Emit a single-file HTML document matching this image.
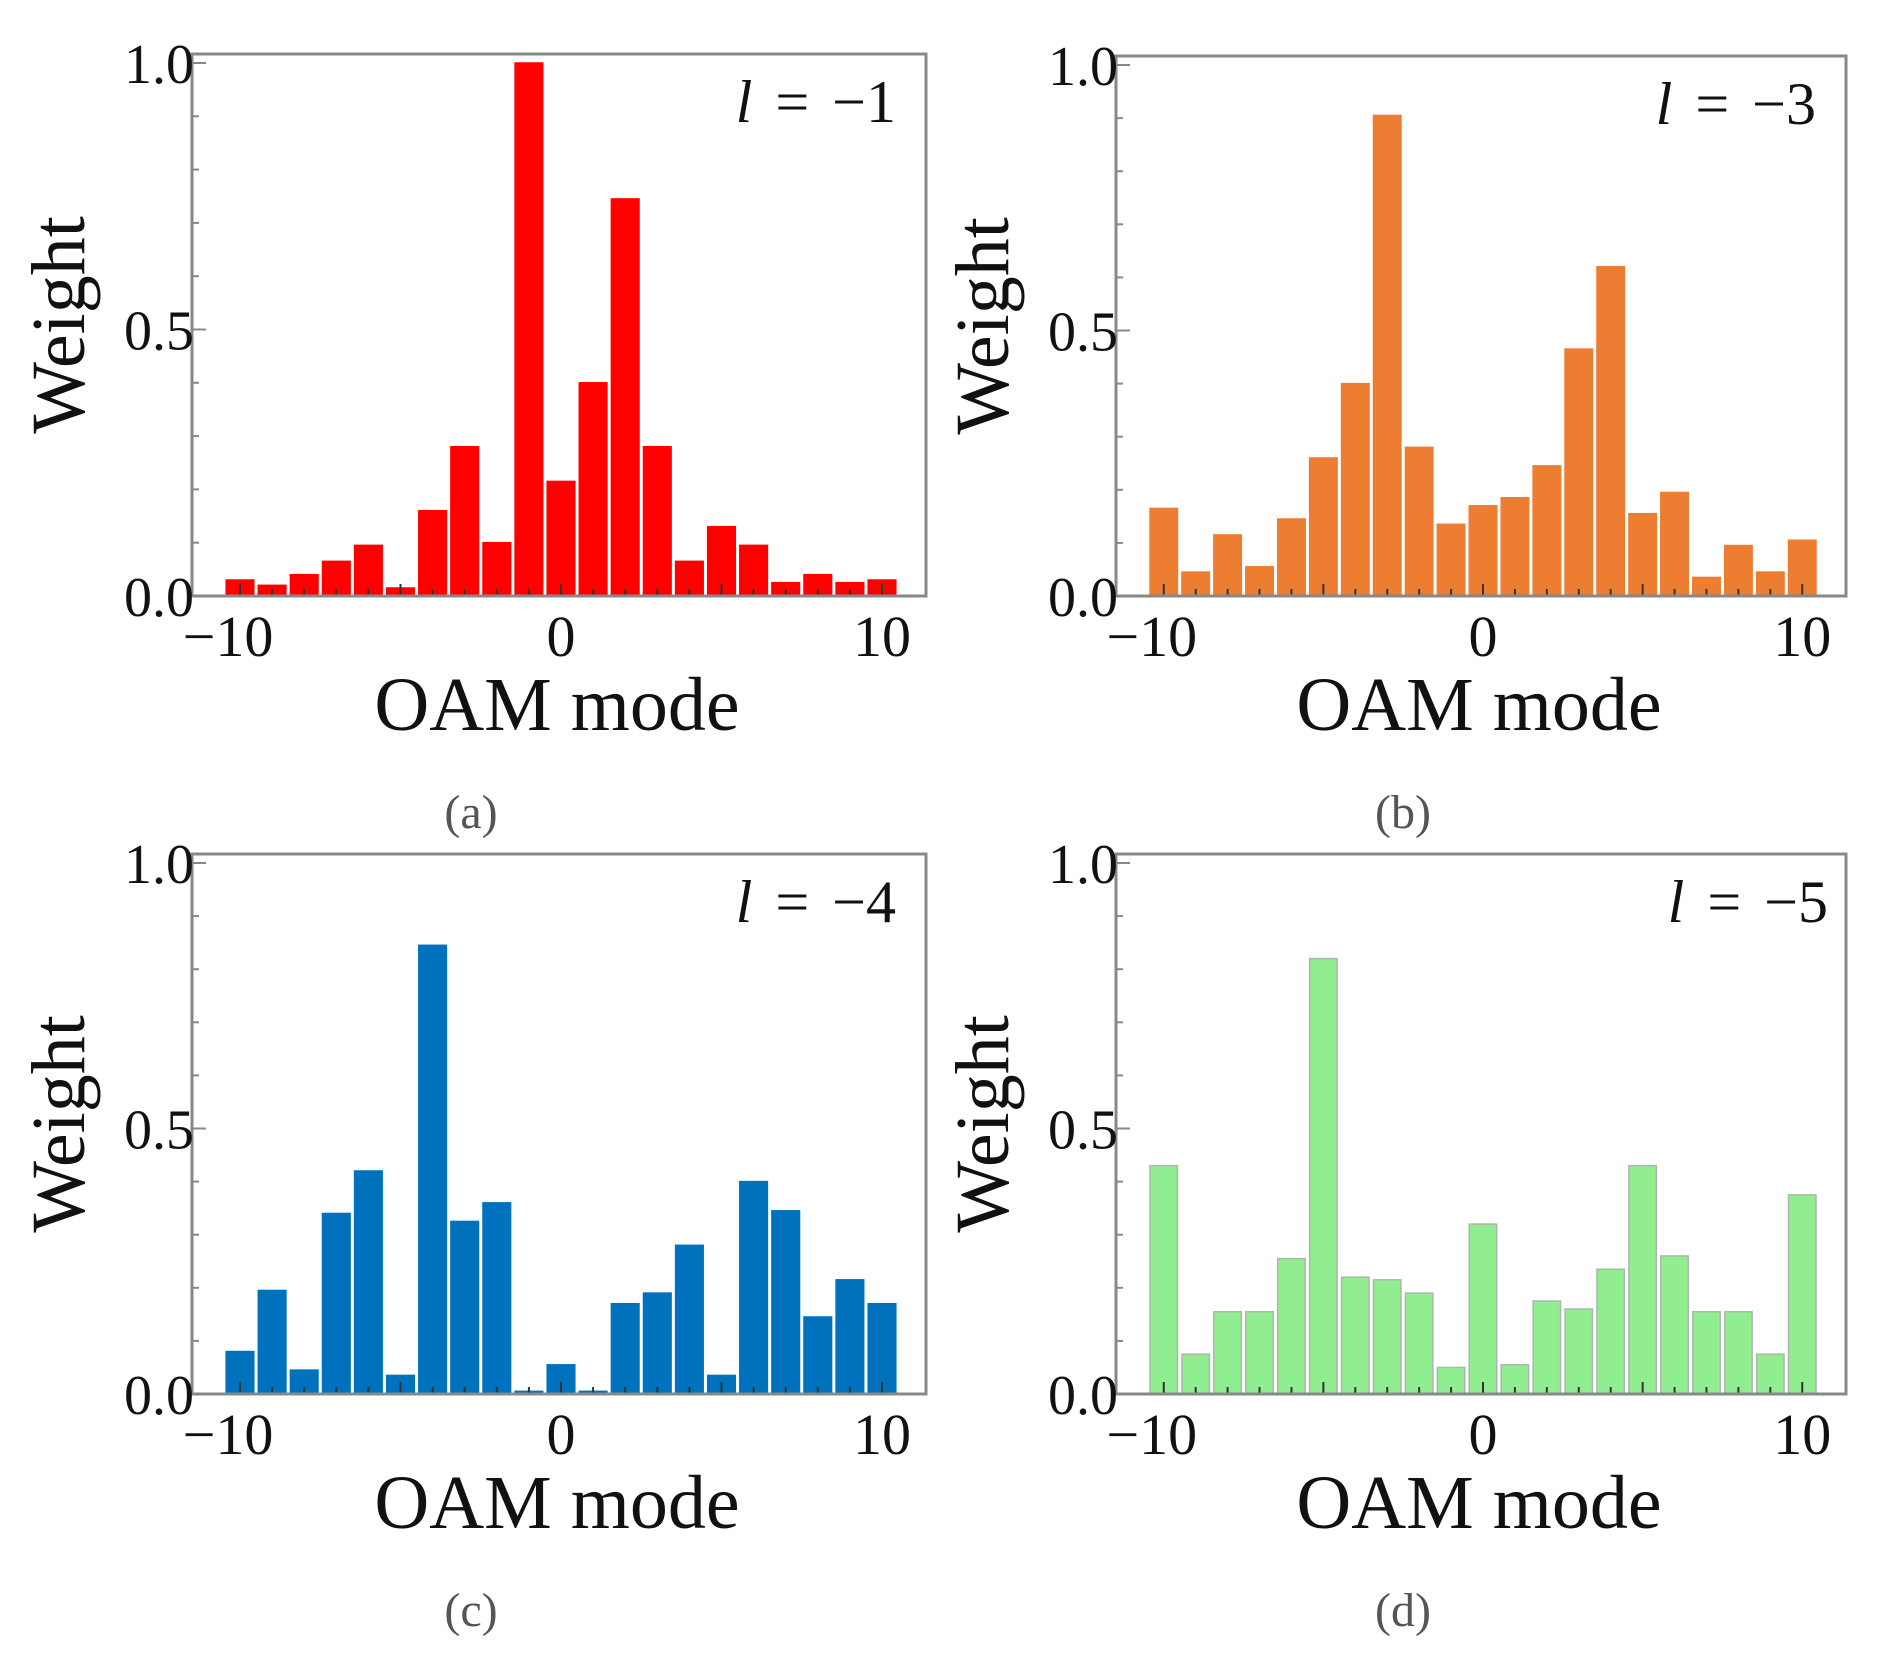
<!DOCTYPE html>
<html><head><meta charset="utf-8"><style>
html,body{margin:0;padding:0;background:#fff}
svg{display:block;font-family:"Liberation Serif",serif}
</style></head><body>
<svg id="fig" width="1881" height="1656" viewBox="0 0 1881 1656" xmlns="http://www.w3.org/2000/svg"></svg>
<script>
const modes = [-10,-9,-8,-7,-6,-5,-4,-3,-2,-1,0,1,2,3,4,5,6,7,8,9,10];
const weightsA = [.03,.02,.04,.065,.095,.015,.16,.28,.10,1.0,.215,.40,.745,.28,.065,.13,.095,.025,.04,.025,.03];
const weightsB = [.165,.045,.115,.055,.145,.26,.40,.905,.28,.135,.17,.185,.245,.465,.62,.155,.195,.035,.095,.045,.105];
const weightsC = [.08,.195,.045,.34,.42,.035,.845,.325,.36,.005,.055,.005,.17,.19,.28,.035,.40,.345,.145,.215,.17];
const weightsD = [.43,.075,.155,.155,.255,.82,.22,.215,.19,.05,.32,.055,.175,.16,.235,.43,.26,.155,.155,.075,.375];
const yTicks = [0,0.5,1.0];
const yTickLabels = ["0.0","0.5","1.0"];
const xTicks = [-10,0,10];
const xTickLabels = ["\u221210","0","10"];
const panelLabels = ["l = \u22121","l = \u22123","l = \u22124","l = \u22125"];
const captions = ["(a)","(b)","(c)","(d)"];

const NS="http://www.w3.org/2000/svg";
const svg=document.getElementById('fig');
function mk(tag,attrs,parent){const e=document.createElementNS(NS,tag);for(const k in attrs)e.setAttribute(k,attrs[k]);(parent||svg).appendChild(e);return e;}

const panels=[
 {L:192,T:54,R:926,B:596,data:weightsA,fill:"#ff0000",stroke:"#ff0000"},
 {L:1116,T:56,R:1846,B:596,data:weightsB,fill:"#ed7d31",stroke:"#ed7d31"},
 {L:192,T:854,R:926,B:1394,data:weightsC,fill:"#0072bd",stroke:"#0072bd"},
 {L:1116,T:854,R:1846,B:1394,data:weightsD,fill:"#90ee90",stroke:"#aab8aa"}
];
panels.forEach((p,i)=>{
 const g=mk('g',{});
 
 
 const y0=p.B, y1=p.T+9;
 const ys=v=>y0-v*(y0-y1);
 const xc=(p.L+p.R)/2+2;
 const xs=m=>xc+m*32.1*(p.R-p.L)/734;
 const bw=0.86*32.1*(p.R-p.L)/734;
 modes.forEach((m,j)=>{
  const v=p.data[j];
  const r=mk('rect',{x:xs(m)-bw/2,y:ys(v),width:bw,height:y0-ys(v),fill:p.fill,stroke:p.stroke,'stroke-width':1.5},g);
  
  
 });
 modes.forEach(m=>{mk('line',{x1:xs(m),x2:xs(m),y1:y0,y2:y0-(m%5===0?12:7),stroke:'#333','stroke-width':2},g);});
 for(let k=0;k<=10;k++){const v=k/10;mk('line',{x1:p.L,x2:p.L+(k%5===0?14:7),y1:ys(v),y2:ys(v),stroke:'#888','stroke-width':2},g);}
 const fr=mk('rect',{x:p.L,y:p.T,width:p.R-p.L,height:p.B-p.T,fill:'none',stroke:'#888','stroke-width':3},g);
 
 
 yTicks.forEach((v,k)=>{const t=mk('text',{x:p.L+2,y:ys(v)+20,'font-size':56,'text-anchor':'end',fill:'#111'},g);t.textContent=yTickLabels[k];
  });
 xTicks.forEach((v,k)=>{const t=mk('text',{x:xs(v)-(v<0?12:0),y:y0+60,'font-size':58,'text-anchor':'middle',fill:'#111'},g);t.textContent=xTickLabels[k];
  });
 const xl=mk('text',{x:(p.L+p.R)/2-2,y:y0+134,'font-size':76,'text-anchor':'middle',fill:'#111'},g);xl.textContent='OAM mode';
 
 const yl=mk('text',{x:0,y:0,'font-size':76,'text-anchor':'middle',fill:'#111',transform:`translate(${p.L-108},${(p.T+p.B)/2}) rotate(-90)`},g);yl.textContent='Weight';
 
 const an=mk('text',{x:p.R-30+(i===3?12:0),y:p.T+68,'font-size':60,'text-anchor':'end',fill:'#111','word-spacing':8},g);
 const it=mk('tspan',{'font-style':'italic'},an);it.textContent='l';
 const rest=mk('tspan',{},an);rest.textContent=' = \u2212'+panelLabels[i].slice(-1);
 
 const cp=mk('text',{x:(p.L+p.R)/2-88+(i%2?10:0),y:y0+232,'font-size':48,'text-anchor':'middle',fill:'#555'},g);cp.textContent=captions[i];
 
});
</script>
</body></html>
